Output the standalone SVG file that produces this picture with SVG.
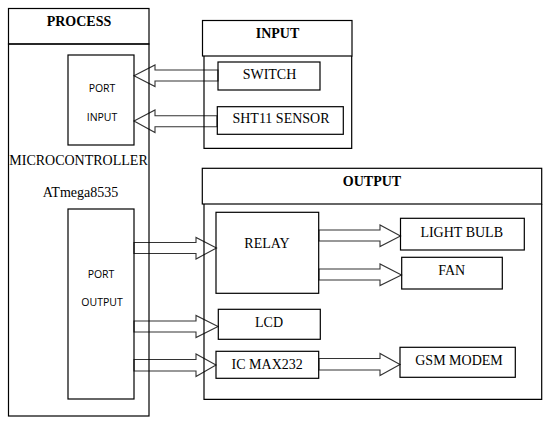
<svg xmlns="http://www.w3.org/2000/svg" width="549" height="425" viewBox="0 0 549 425">
<style>
.bx{fill:none;stroke:#000;stroke-width:1.2}
.ar{fill:#fff;stroke:#333;stroke-width:1.1;stroke-linejoin:miter}
.t{font-family:'Liberation Serif','Times New Roman','DejaVu Serif',serif;font-size:14px;fill:#000;text-anchor:middle}
.tb{font-family:'Liberation Serif','Times New Roman','DejaVu Serif',serif;font-size:14px;font-weight:bold;fill:#000;text-anchor:middle}
.s{font-family:'Open Sans','Liberation Sans',Arial,sans-serif;font-size:10.5px;fill:#000;text-anchor:middle}
</style>
<rect width="549" height="425" fill="#fff"/>
<g id="connectors">
<polygon class="ar" points="134,242.5 196,242.5 196,237.5 216.5,248 196,259 196,253.5 134,253.5"/>
<polygon class="ar" points="134,321 196,321 196,315.5 218,326.5 196,337.5 196,332 134,332"/>
<polygon class="ar" points="134,359.5 196,359.5 196,354 216,365 196,376.5 196,371 134,371"/>
<polygon class="ar" points="319,230 380,230 380,225 400.5,236 380,246.5 380,241 319,241"/>
<polygon class="ar" points="319,269 380,269 380,264 401.5,275 380,285.5 380,280 319,280"/>
<polygon class="ar" points="319,358.5 380,358.5 380,353.5 400,364.5 380,375.5 380,370 319,370"/>
<polygon class="ar" points="218,70 155,70 155,65 134,75.7 155,86.5 155,81 218,81"/>
<polygon class="ar" points="217,115.7 155,115.7 155,110 134,121 155,132.5 155,126.7 217,126.7"/>
</g>
<g id="process">
<rect class="bx" x="8.5" y="8.5" width="140.5" height="35.5"/>
<rect class="bx" x="8.5" y="44" width="140.5" height="372"/>
<text class="tb" x="79" y="25.5" font-family="Liberation Serif, serif">PROCESS</text>
<text class="t" x="78.5" y="164.5" font-family="Liberation Serif, serif">MICROCONTROLLER</text>
<text class="t" x="80.5" y="196.5" font-family="Liberation Serif, serif">ATmega8535</text>
</g>
<g id="port-input">
<rect class="bx" x="68" y="55" width="66" height="90"/>
<text class="s" x="102" y="92">PORT</text>
<text class="s" x="102" y="121">INPUT</text>
</g>
<g id="port-output">
<rect class="bx" x="68" y="209" width="66" height="190"/>
<text class="s" x="101" y="277.5">PORT</text>
<text class="s" x="102" y="305.5">OUTPUT</text>
</g>
<g id="input">
<rect class="bx" x="202.5" y="20.5" width="149.5" height="35.5"/>
<polyline class="bx" points="204,56 204,148.3 351.7,148.3 351.7,56"/>
<text class="tb" x="277.5" y="37.5">INPUT</text>
</g>
<g id="switch">
<rect class="bx" x="218" y="62" width="102" height="28"/>
<text class="t" x="269.5" y="79">SWITCH</text>
</g>
<g id="sensor">
<rect class="bx" x="217.3" y="106.7" width="126" height="27.6"/>
<text class="t" x="281" y="123.3">SHT11 SENSOR</text>
</g>
<g id="output">
<rect class="bx" x="202.3" y="168.3" width="339.4" height="35.7"/>
<polyline class="bx" points="204,204 204,399.3 541.7,399.3 541.7,204"/>
<text class="tb" x="372" y="186">OUTPUT</text>
</g>
<g id="relay">
<rect class="bx" x="216" y="212.3" width="102.7" height="81"/>
<text class="t" x="267" y="248.3">RELAY</text>
</g>
<g id="light-bulb">
<rect class="bx" x="400.5" y="218.3" width="123.8" height="31.7"/>
<text class="t" x="461.7" y="236.7">LIGHT BULB</text>
</g>
<g id="fan">
<rect class="bx" x="401.7" y="257.3" width="100.6" height="31.7"/>
<text class="t" x="451.7" y="275">FAN</text>
</g>
<g id="lcd">
<rect class="bx" x="218.3" y="309.3" width="102" height="30"/>
<text class="t" x="269" y="327.3">LCD</text>
</g>
<g id="ic-max232">
<rect class="bx" x="216" y="351.3" width="102.7" height="27"/>
<text class="t" x="267.2" y="369">IC MAX232</text>
</g>
<g id="gsm-modem">
<rect class="bx" x="400" y="347.3" width="115.3" height="30"/>
<text class="t" x="459" y="365">GSM MODEM</text>
</g>
</svg>
